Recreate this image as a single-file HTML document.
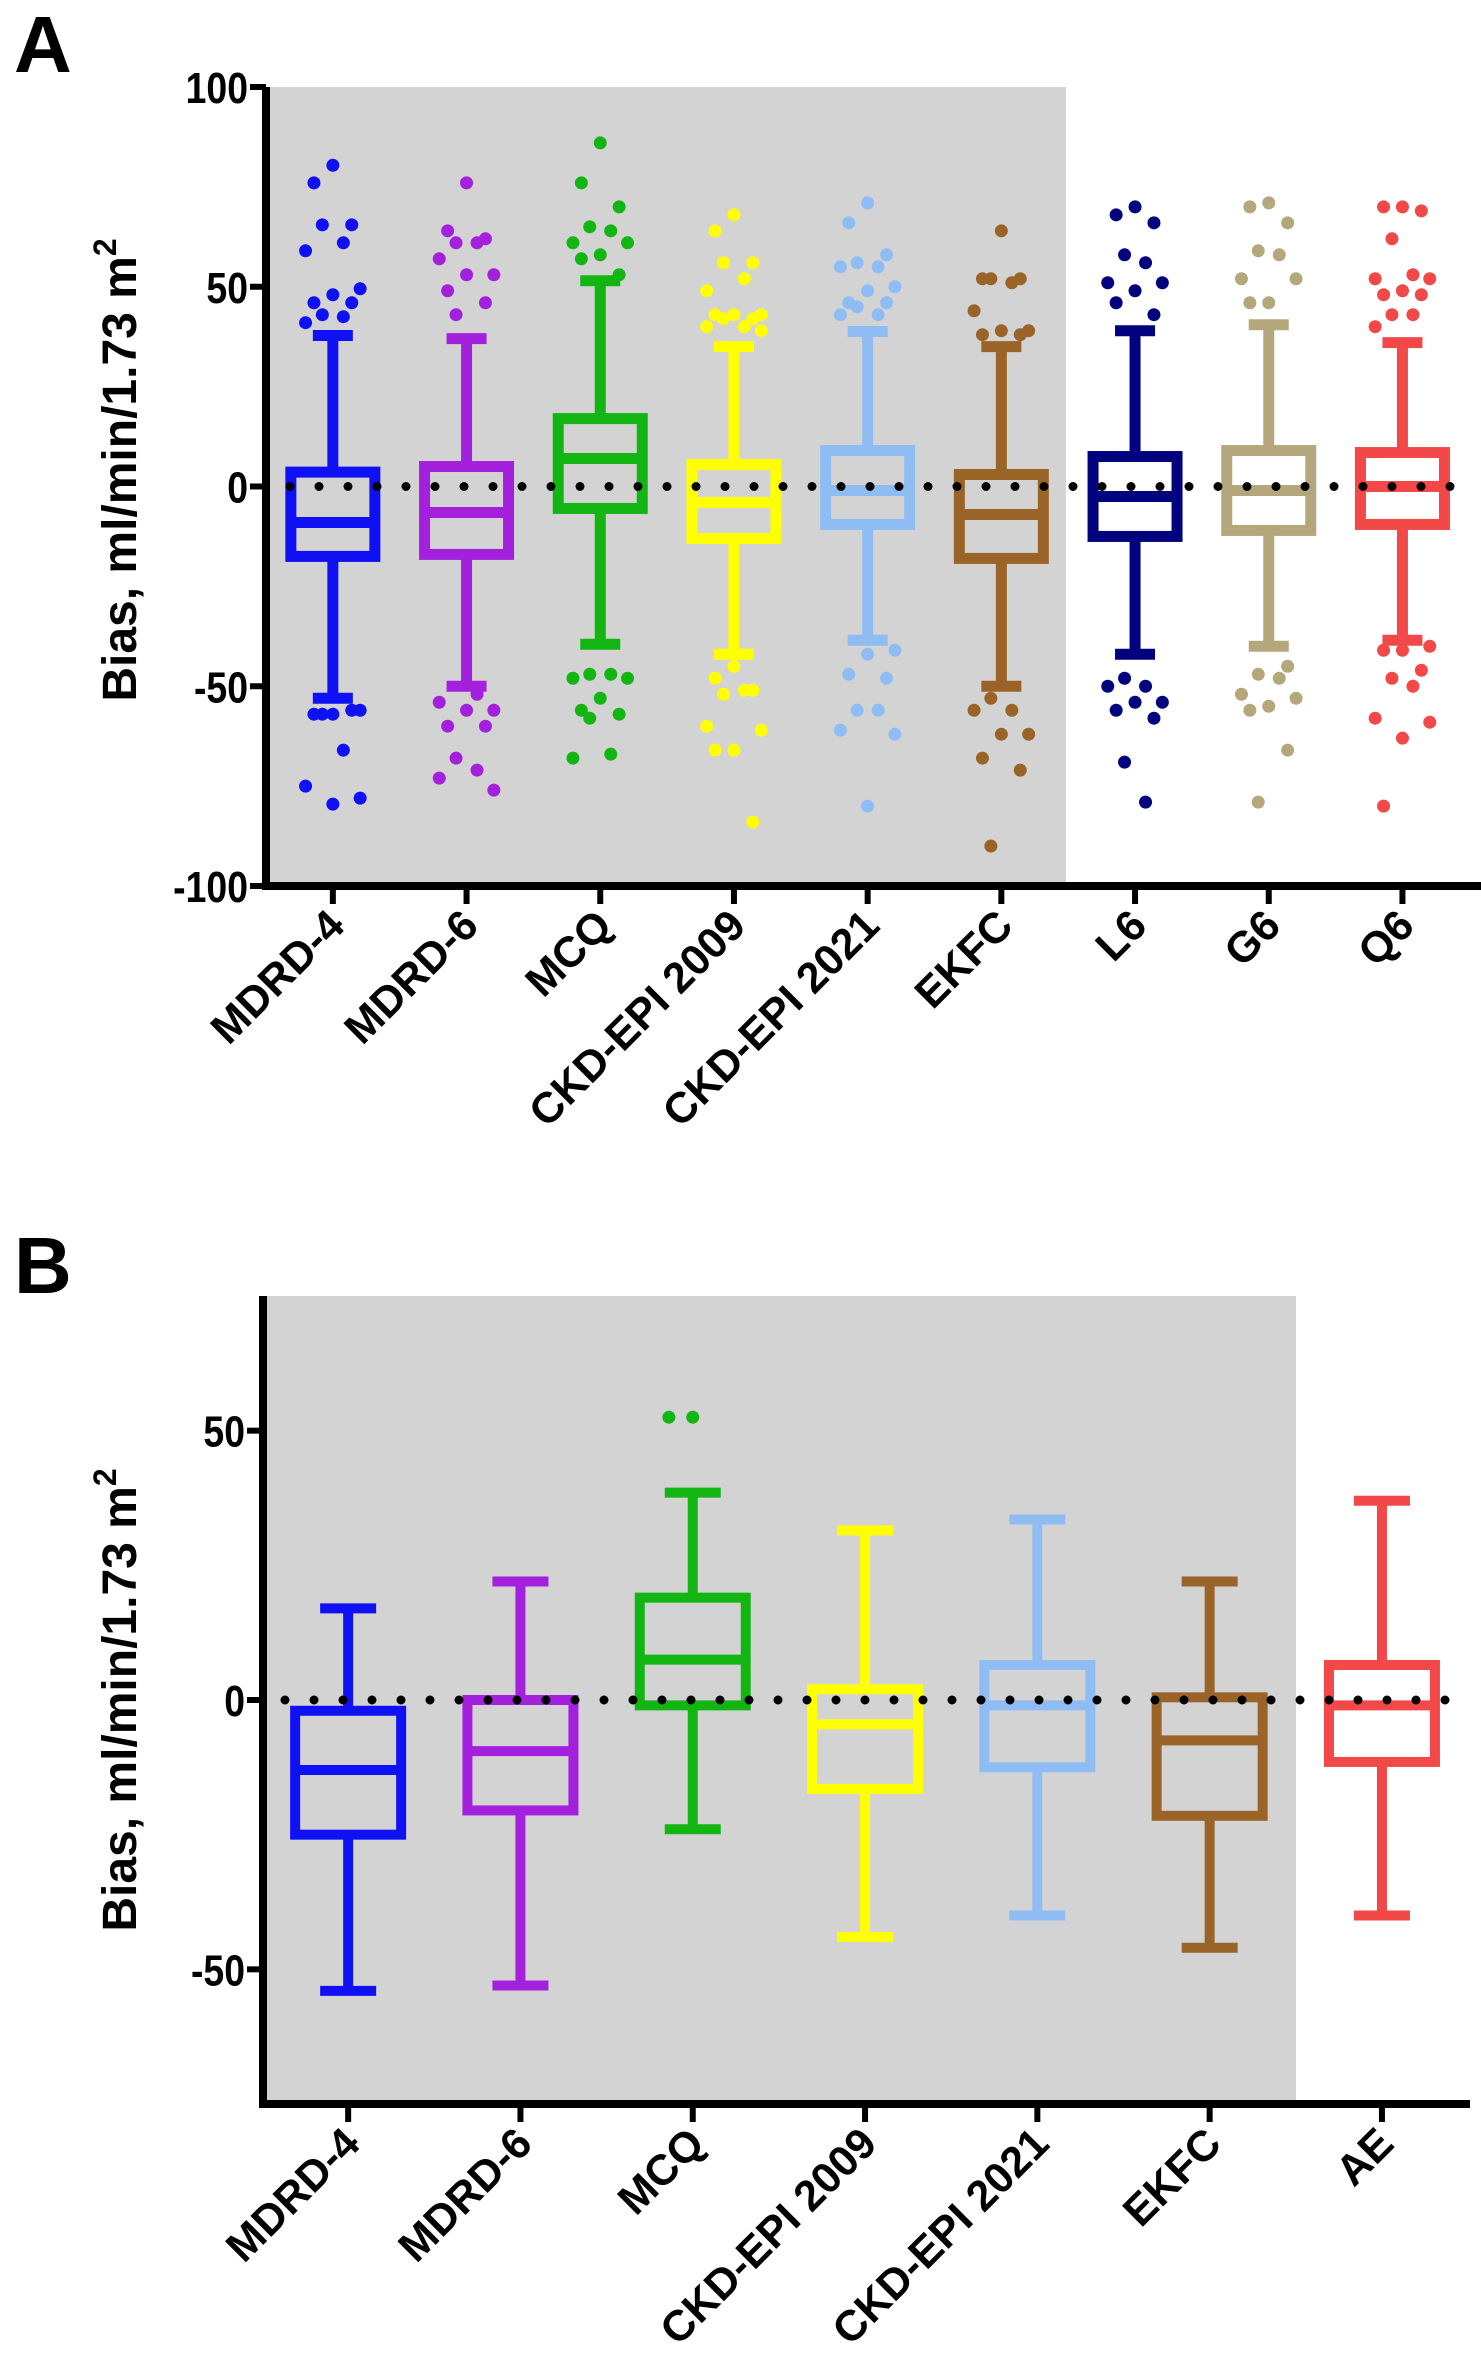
<!DOCTYPE html>
<html><head><meta charset="utf-8"><style>
html,body{margin:0;padding:0;background:#fff;}
svg{display:block;}
text{font-family:"Liberation Sans",Arial,sans-serif;font-weight:bold;fill:#000;}
</style></head><body>
<svg id="chart" width="1481" height="2363" viewBox="0 0 1481 2363" xmlns="http://www.w3.org/2000/svg">
<text x="14" y="72" font-size="80">A</text>
<text x="14" y="1293" font-size="80">B</text>
</svg>
<script>
// ---------- Panel A data ----------
const catsA = ["MDRD-4","MDRD-6","MCQ","CKD-EPI 2009","CKD-EPI 2021","EKFC","L6","G6","Q6"];
const colorsA = ["#1010f5","#a320dd","#12b512","#ffff00","#8fbdf3","#9a6428","#02027e","#b5a77c","#f24848"];
const whiskHiA = [37.8,37,51.5,35,38.8,35,39,40.5,36];
const q3A = [3.6,5,17,5.5,9,3,7.5,9,8.5];
const medA = [-9,-6.5,7,-4,-1,-7,-2.5,-1,0];
const q1A = [-17.5,-17,-5.5,-13,-9.5,-18,-12.5,-11,-9.5];
const whiskLoA = [-53,-50,-39.5,-42,-38.5,-50,-42,-40,-38.5];
const outliersA = [
 [80.4,76,65.5,65.5,61,59,49.5,48,46,46,43,42.5,41,-56,-57,-57,-56,-57,-66,-75,-78,-79.5],
 [76,64,62,61,61,57,53,53,49,46,43,-52,-54,-56,-56,-60,-60,-68,-71,-73,-76],
 [86,76,70,65,64,61,61,58,57,53,-47,-47,-48,-48,-53,-56,-57,-58,-67,-68],
 [68,64,56,56,52,49,43,43,43,42,42,40,40,39,-45,-48,-51,-52,-51,-60,-61,-66,-66,-84],
 [71,66,58,56,55,55,50,49,46,46,45,43,43,-41,-42,-47,-48,-56,-56,-61,-62,-80],
 [64,52,52,52,51,44,39,39,38,38,-53,-56,-56,-62,-62,-68,-71,-90],
 [70,68,66,58,56,51,51,49,46,43,-48,-50,-50,-54,-54,-56,-58,-69,-79],
 [71,70,66,59,58,52,52,46,46,-45,-47,-48,-52,-53,-55,-56,-66,-79],
 [70,70,69,62,53,52,52,49,48,48,43,43,40,-40,-41,-41,-46,-48,-50,-58,-59,-63,-80]
];
const ticksA = [100,50,0,-50,-100];

// ---------- Panel B data ----------
const catsB = ["MDRD-4","MDRD-6","MCQ","CKD-EPI 2009","CKD-EPI 2021","EKFC","AE"];
const colorsB = ["#1010f5","#a320dd","#12b512","#ffff00","#8fbdf3","#9a6428","#f24848"];
const whiskHiB = [17,22,38.5,31.5,33.5,22,37];
const q3B = [-2,0,19,2,6.5,0.5,6.5];
const medB = [-13,-9.5,7.5,-4.5,-1,-7.5,-1];
const q1B = [-25,-20.5,-1,-16.5,-12.5,-21.5,-11.5];
const whiskLoB = [-54,-53,-24,-44,-40,-46,-40];
const outliersB = [[],[],[52.5,52.5],[],[],[],[]];
const ticksB = [50,0,-50];

const NS = "http://www.w3.org/2000/svg";
const svg = document.getElementById("chart");
function mk(tag, attrs, parent){
  const e = document.createElementNS(NS, tag);
  for (const k in attrs) e.setAttribute(k, attrs[k]);
  (parent||svg).appendChild(e);
  return e;
}

function panel(p){
  const g = mk("g", {});
  
  
  const y = v => p.yTop + (p.max - v) / (p.max - p.min) * (p.yBot - p.yTop);
  const x = i => p.x0 + p.step * (i + 0.5);
  const bg = mk("rect", {x:p.axisX, y:p.yTop, width:p.grayRight - p.axisX, height:p.yBot - p.yTop, fill:"#d3d3d3"}, g);
  
  
  const zl = mk("line", {x1:p.dotStart, x2:p.dotEnd, y1:y(0), y2:y(0), stroke:"#000", "stroke-width":9, "stroke-linecap":"round", "stroke-dasharray":"0 29"}, g);
  
  
  p.cats.forEach((c, i) => {
    const cx = x(i), col = p.colors[i];
    const bg2 = mk("g", {stroke:col, "stroke-width":p.sw, fill:"none"}, g);
    
    
    mk("line", {x1:cx, x2:cx, y1:y(p.hi[i]), y2:y(p.q3[i])}, bg2);
    mk("line", {x1:cx, x2:cx, y1:y(p.q1[i]), y2:y(p.lo[i])}, bg2);
    mk("line", {x1:cx - p.cap/2, x2:cx + p.cap/2, y1:y(p.hi[i]), y2:y(p.hi[i])}, bg2);
    mk("line", {x1:cx - p.cap/2, x2:cx + p.cap/2, y1:y(p.lo[i]), y2:y(p.lo[i])}, bg2);
    mk("rect", {x:cx - p.bw/2, y:y(p.q3[i]), width:p.bw, height:y(p.q1[i]) - y(p.q3[i]), fill: p.gray(i) ? "#d3d3d3" : "#fff"}, bg2);
    mk("line", {x1:cx - p.bw/2, x2:cx + p.bw/2, y1:y(p.med[i]), y2:y(p.med[i])}, bg2);
    const offs = [0,-0.45,0.45,-0.25,0.25,-0.65,0.65];
    p.out[i].forEach((v, j) => {
      const d = mk("circle", {cx: cx + offs[j % offs.length] * p.bw * 0.5, cy:y(v), r:p.r, fill:col, stroke:"none"}, g);
      
      
    });
    mk("line", {x1:cx, x2:cx, y1:p.yBot, y2:p.yBot + 18, stroke:"#000", "stroke-width":6}, g);
    const t = mk("text", {x:0, y:0, "font-size":p.fs, "text-anchor":"end", transform:`translate(${cx+14},${p.yBot+42}) rotate(-45)`}, g);
    t.textContent = c;
    
    
  });
  g.appendChild(zl);
  const ax = mk("path", {d:`M${p.axisX},${p.yTop} V${p.yBot} H${p.axisEnd}`, stroke:"#000", "stroke-width":8, fill:"none"}, g);
  
  
  p.ticks.forEach(v => {
    mk("line", {x1:p.axisX - 16, x2:p.axisX, y1:y(v), y2:y(v), stroke:"#000", "stroke-width":6}, g);
    const t = mk("text", {x:0, y:0, "font-size":44, "text-anchor":"end", transform:`translate(${p.axisX - 18},${y(v) + 16}) scale(0.85,1)`}, g);
    t.textContent = v;
    
    
  });
  const yt = mk("text", {x:0, y:0, "font-size":48, "text-anchor":"middle", transform:`translate(${p.titleX},${p.titleY}) rotate(-90)`}, g);
  yt.innerHTML = 'Bias, ml/min/1.73 m<tspan dy="-20" font-size="32">2</tspan>';
  
  
}

panel({id:"panel-a", cats:catsA, colors:colorsA, hi:whiskHiA, q3:q3A, med:medA, q1:q1A, lo:whiskLoA, out:outliersA, ticks:ticksA,
  max:100, min:-100, yTop:87, yBot:886, axisX:266, axisEnd:1481, x0:266, step:133.7, grayRight:1066,
  dotStart:290, dotEnd:1478, bw:84, cap:40, sw:11, r:6.5, fs:43, titleX:136, titleY:470, gray:i=>i<6});
panel({id:"panel-b", cats:catsB, colors:colorsB, hi:whiskHiB, q3:q3B, med:medB, q1:q1B, lo:whiskLoB, out:outliersB, ticks:ticksB,
  max:75, min:-75, yTop:1296, yBot:2104, axisX:263, axisEnd:1470, x0:262, step:172.3, grayRight:1296,
  dotStart:285, dotEnd:1448, bw:106, cap:56, sw:10, r:6.5, fs:43, titleX:136, titleY:1700, gray:i=>i<6});
</script>
</body></html>
